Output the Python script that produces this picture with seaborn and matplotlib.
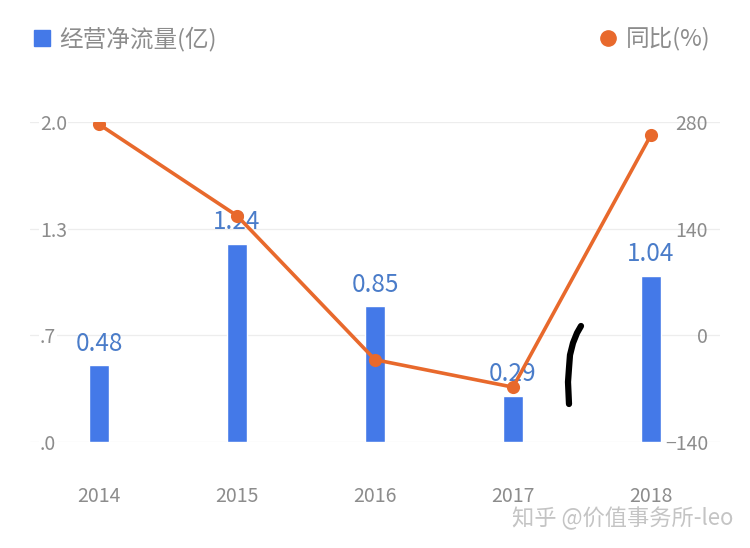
import numpy as np
import pandas as pd
import seaborn as sns
import matplotlib.pyplot as plt
from matplotlib.lines import Line2D

# ---------------------------------------------------------------- data
years      = ["2014", "2015", "2016", "2017", "2018"]
net_flow   = [0.48, 1.24, 0.85, 0.29, 1.04]        # 经营净流量(亿)
yoy        = [277, 157, -32, -68, 263]              # 同比(%)
left_ticks = [0.0, 2 / 3, 4 / 3, 2.0]
left_lbls  = [".0", ".7", "1.3", "2.0"]
right_ticks = [-140, 0, 140, 280]

BAR_C  = "#4479E8"
LINE_C = "#E8692C"
LBL_C  = "#4A7CC9"
GRAY   = "#8C8C8C"

df = pd.DataFrame({"year": years, "flow": net_flow, "yoy": yoy})

# ---------------------------------------------------------------- style
sns.set_theme(style="white")
plt.rcParams["font.family"] = ["Noto Sans CJK SC", "DejaVu Sans"]

fig = plt.figure(figsize=(7.5, 5.48), dpi=100)
ax = fig.add_axes([30 / 750, 1 - 442 / 548, 690 / 750, 320 / 548])

# bars
sns.barplot(data=df, x="year", y="flow", color=BAR_C, width=0.15,
            saturation=1, ax=ax, zorder=2)
for c in ax.containers:
    ax.bar_label(c, labels=[f"{v:.2f}" for v in net_flow], padding=6,
                 fontsize=17.5, color=LBL_C, zorder=3)

ax.set_xlim(-0.5, 4.5)
ax.set_ylim(0, 2.0)
ax.set_yticks(left_ticks)
ax.set_yticklabels(left_lbls)
ax.yaxis.grid(True, color="#EDEDED", linewidth=0.9, zorder=0)
ax.set_axisbelow(True)
ax.tick_params(axis="y", length=0, pad=-7.2, labelsize=14, labelcolor=GRAY)
ax.tick_params(axis="x", length=0, pad=32, labelsize=14, labelcolor=GRAY)
for lbl in ax.get_yticklabels():
    lbl.set_horizontalalignment("left")
    lbl.set_bbox(dict(facecolor="white", edgecolor="none", pad=1))
ax.set_xlabel("")
ax.set_ylabel("")
sns.despine(ax=ax, left=True, bottom=True)

# yoy line
ax2 = ax.twinx()
sns.pointplot(data=df, x="year", y="yoy", color=LINE_C, markers="o",
              markersize=7.5, linewidth=2.6, ax=ax2, zorder=5)
ax2.set_xlim(-0.5, 4.5)
ax2.set_ylim(-140, 280)
ax2.set_yticks(right_ticks)
ax2.tick_params(axis="y", length=0, pad=-8.6, labelsize=14, labelcolor=GRAY)
for lbl in ax2.get_yticklabels():
    lbl.set_horizontalalignment("right")
ax2.set_ylabel("")
ax2.grid(False)
sns.despine(ax=ax2, left=True, bottom=True, right=True)

# legends
fig.legend(handles=[Line2D([], [], marker="s", color=BAR_C, linestyle="none",
                           markersize=11, label="经营净流量(亿)")],
           loc="center left", bbox_to_anchor=(0.015, 0.929), frameon=False,
           handletextpad=0.35, handlelength=0.8, fontsize=17, labelcolor=GRAY)
fig.legend(handles=[Line2D([], [], marker="o", color=LINE_C, linestyle="none",
                           markersize=11, label="同比(%)")],
           loc="center right", bbox_to_anchor=(0.975, 0.929), frameon=False,
           handletextpad=0.35, handlelength=0.8, fontsize=17, labelcolor=GRAY)

# watermark and pen stroke from the screenshot
fig.text(0.978, 1 - 518 / 548, "知乎 @价值事务所-leo", ha="right", va="center",
         fontsize=16, color="#C4C4C4")
stroke_x = [581, 577, 573, 570, 569, 568, 569]
stroke_y = [326, 333, 343, 355, 368, 382, 404]
fig.add_artist(Line2D([v / 750 for v in stroke_x], [1 - v / 548 for v in stroke_y],
                      color="black", linewidth=4.5, solid_capstyle="round",
                      solid_joinstyle="round", transform=fig.transFigure))

fig.savefig("out.png", dpi=100)
